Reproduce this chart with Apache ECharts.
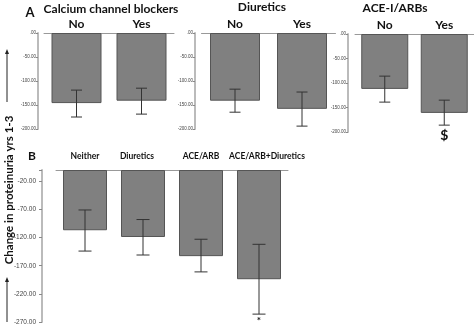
<!DOCTYPE html>
<html><head><meta charset="utf-8">
<script src="https://cdn.jsdelivr.net/npm/echarts@6/dist/echarts.min.js"></script>
<style>html,body{margin:0;padding:0;background:#fff}#c{width:474px;height:331px}</style>
</head><body><div id="c"></div>
<script>
// ---- data ----
const catsA = ['No', 'Yes'];
const titlesA = ['Calcium channel blockers', 'Diuretics', 'ACE-I/ARBs'];
const ccbMean = [-146, -141];
const ccbLow = [-175, -169];
const ccbHigh = [-119, -115];
const diuMean = [-141, -158];
const diuLow = [-165, -194];
const diuHigh = [-117, -123];
const aceMean = [-112, -161];
const aceLow = [-139, -186];
const aceHigh = [-86, -135];
const annotA = ['', '$'];
const ticksA = [0, -50, -100, -150, -200];

const catsB = ['Neither', 'Diuretics', 'ACE/ARB', 'ACE/ARB+Diuretics'];
const bMean = [-107, -119, -153, -194];
const bLow = [-144, -151, -181, -256];
const bHigh = [-71, -88, -123, -132];
const annotB = ['', '', '', '*'];
const ticksB = [-20, -70, -120, -170, -220, -270];

const yTitle = 'Change in proteinuria yrs 1-3';
const FONT = 'Lato';

const chart = echarts.init(document.getElementById('c'));

const panelsA = [
  {mean: ccbMean, low: ccbLow, high: ccbHigh, annot: ['', ''], grid: {left: 44, top: 33, width: 130, height: 96}, off: 6, bw: 50},
  {mean: diuMean, low: diuLow, high: diuHigh, annot: ['', ''], grid: {left: 201.5, top: 33, width: 134, height: 96}, off: 6.5, bw: 50},
  {mean: aceMean, low: aceLow, high: aceHigh, annot: annotA, grid: {left: 355, top: 34, width: 123, height: 98}, off: 7, bw: 47}
];

const grids = [], xAxes = [], yAxes = [], series = [];

function errSeries(i, low, high, annot, cap, annotSize, annotGap) {
  return {
    type: 'custom', xAxisIndex: i, yAxisIndex: i, z: 5,
    data: low.map((l, k) => [k, l, high[k]]),
    encode: {x: 0, y: [1, 2]},
    renderItem: function (params, api) {
      const k = api.value(0);
      const p1 = api.coord([k, api.value(1)]);
      const p2 = api.coord([k, api.value(2)]);
      const st = {stroke: '#333', lineWidth: 1};
      const children = [
        {type: 'line', shape: {x1: p1[0], y1: p1[1], x2: p2[0], y2: p2[1]}, style: st},
        {type: 'line', shape: {x1: p1[0] - cap, y1: p1[1], x2: p1[0] + cap, y2: p1[1]}, style: st},
        {type: 'line', shape: {x1: p2[0] - cap, y1: p2[1], x2: p2[0] + cap, y2: p2[1]}, style: st}
      ];
      const a = annot[params.dataIndex];
      if (a) {
        children.push({type: 'text', style: {text: a, x: p1[0], y: p1[1] + annotGap, align: 'center', verticalAlign: 'middle', fontSize: annotSize, fontWeight: 'bold', fontFamily: FONT, fill: '#111'}});
      }
      return {type: 'group', children: children};
    }
  };
}

panelsA.forEach((p, i) => {
  grids.push(p.grid);
  xAxes.push({
    type: 'category', gridIndex: i, data: catsA, position: 'top',
    axisLine: {lineStyle: {color: '#999', width: 1}}, axisTick: {show: false},
    axisLabel: {interval: 0, margin: 3, fontSize: 12, fontWeight: 'bold', color: '#111', fontFamily: FONT}
  });
  yAxes.push({
    type: 'value', gridIndex: i, min: -200, max: 0, interval: 50, offset: p.off,
    axisLine: {show: true, lineStyle: {color: '#bbb', width: 2}},
    axisTick: {show: true, length: 2, lineStyle: {color: '#888'}},
    splitLine: {show: false},
    axisLabel: {fontSize: 4.5, color: '#444', margin: 2, fontFamily: 'Liberation Sans',
      formatter: v => v === 0 ? '.00' : v.toFixed(2)}
  });
  series.push({
    type: 'bar', xAxisIndex: i, yAxisIndex: i, data: p.mean, barWidth: p.bw,
    itemStyle: {color: '#808080', borderColor: '#555', borderWidth: 1}
  });
  series.push(errSeries(i, p.low, p.high, p.annot, 5.5, 14, 10));
});

// small per-label nudges (padding) to match the reference label placement
const labelPadB = [[0, 0, 0, 0], [0, 12, 0, 0], [0, 0, 0, 0], [0, 0, 0, 16]];
grids.push({left: 56, top: 170, width: 232, height: 152});
xAxes.push({
  type: 'category', gridIndex: 3, position: 'top',
  data: catsB.map((c, k) => ({value: c, textStyle: {padding: labelPadB[k]}})),
  axisLine: {lineStyle: {color: '#999', width: 1}}, axisTick: {show: false},
  axisLabel: {interval: 0, margin: 9, fontSize: 8.5, fontWeight: 'bold', color: '#111', fontFamily: FONT}
});
yAxes.push({
  type: 'value', gridIndex: 3, min: -270, max: 0, interval: 50, offset: 14,
  axisLine: {show: true, lineStyle: {color: '#bbb', width: 2}},
  axisTick: {show: true, length: 3, lineStyle: {color: '#888'}},
  splitLine: {show: false},
  axisLabel: {fontSize: 6.5, color: '#444', margin: 6, fontFamily: 'Liberation Sans',
    formatter: v => ticksB.indexOf(v) >= 0 ? v.toFixed(2) : ''}
});
series.push({
  type: 'bar', xAxisIndex: 3, yAxisIndex: 3, data: bMean, barWidth: 44,
  itemStyle: {color: '#808080', borderColor: '#555', borderWidth: 1}
});
series.push(errSeries(3, bLow, bHigh, annotB, 6.5, 10, 7));

const titleX = [111, 262, 395];
const titleY = [9, 7, 8];
const graphics = titlesA.map((t, i) => ({
  type: 'text', x: titleX[i], y: titleY[i],
  style: {text: t, fontSize: 12, fontWeight: 'bold', fontFamily: FONT, fill: '#111', align: 'center', verticalAlign: 'middle'}
}));
graphics.push({type: 'text', x: 30, y: 13, style: {text: 'A', fontSize: 13, fontWeight: 'bold', fontFamily: FONT, fill: '#111', align: 'center', verticalAlign: 'middle'}});
graphics.push({type: 'text', x: 32, y: 156, style: {text: 'B', fontSize: 12, fontWeight: 'bold', fontFamily: FONT, fill: '#111', align: 'center', verticalAlign: 'middle'}});
graphics.push({type: 'text', x: 9, y: 190, rotation: Math.PI / 2,
  style: {text: yTitle, fontSize: 11.5, fontWeight: 'bold', fontFamily: FONT, fill: '#111', align: 'center', verticalAlign: 'middle'}});
function arrow(x, yTop, yBot) {
  graphics.push({type: 'line', shape: {x1: x, y1: yBot, x2: x, y2: yTop + 3}, style: {stroke: '#222', lineWidth: 1}});
  graphics.push({type: 'polygon', shape: {points: [[x, yTop], [x - 2, yTop + 5], [x + 2, yTop + 5]]}, style: {fill: '#222'}});
}
arrow(7, 49, 102);
arrow(7, 277, 322);

chart.setOption({
  animation: false,
  grid: grids, xAxis: xAxes, yAxis: yAxes, series: series, graphic: graphics
});
</script></body></html>
